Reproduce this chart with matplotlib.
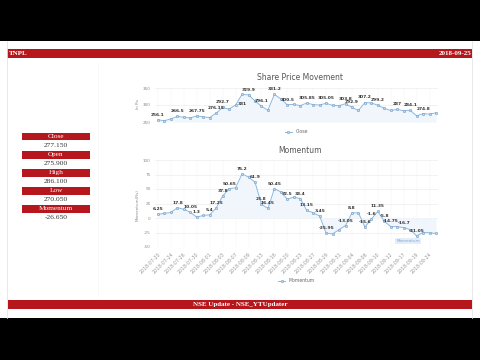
import matplotlib
matplotlib.use('Agg')
import matplotlib.pyplot as plt
from matplotlib.patches import Rectangle
from matplotlib.lines import Line2D

plt.rcParams['axes.unicode_minus'] = False

# ---------------- data ----------------
dates = ["2018-07-20", "2018-07-23", "2018-07-24", "2018-07-25", "2018-07-26", "2018-07-27",
         "2018-07-30", "2018-07-31", "2018-08-01", "2018-08-02", "2018-08-03", "2018-08-06",
         "2018-08-07", "2018-08-08", "2018-08-09", "2018-08-10", "2018-08-13", "2018-08-14",
         "2018-08-16", "2018-08-17", "2018-08-20", "2018-08-21", "2018-08-23", "2018-08-24",
         "2018-08-27", "2018-08-28", "2018-08-29", "2018-08-30", "2018-08-31", "2018-09-03",
         "2018-09-04", "2018-09-05", "2018-09-06", "2018-09-07", "2018-09-10", "2018-09-11",
         "2018-09-12", "2018-09-14", "2018-09-17", "2018-09-18", "2018-09-19", "2018-09-21",
         "2018-09-24", "2018-09-25"]

close = [256.1, 254.0, 259.0, 266.5, 264.0, 262.0, 267.75, 265.0, 263.0, 276.15,
         292.7, 288.0, 300.0, 331.0, 329.9, 312.0, 296.1, 285.0, 331.2, 318.0,
         300.5, 302.0, 298.0, 305.85, 301.0, 300.0, 305.05, 299.0, 298.0, 303.8,
         292.9, 284.0, 307.2, 306.0, 299.2, 290.0, 284.0, 287.0, 283.0, 284.1,
         268.0, 274.8, 273.0, 277.15]
close_labeled = [0, 3, 6, 9, 10, 13, 14, 16, 18, 20, 23, 26, 29, 30, 32, 34, 37, 39, 41]

momentum = [6.25, 8.0, 9.5, 17.8, 15.0, 10.05, 1.3, 4.5, 5.4, 17.25,
            37.8, 50.65, 52.0, 76.2, 70.5, 61.9, 23.8, 16.45, 50.45, 45.0,
            32.5, 36.0, 33.4, 13.15, 9.0, 3.45, -25.95, -27.5, -20.0, -13.05,
            8.8, 9.0, -15.6, -1.6, 11.35, -5.8, -14.75, -15.0, -16.7, -20.0,
            -31.05, -25.0, -25.5, -26.65]
mom_labeled = [0, 3, 5, 6, 8, 9, 10, 11, 13, 15, 16, 17, 18, 20, 22, 23, 25, 26,
               29, 30, 32, 33, 34, 35, 36, 38, 40]

symbol = "TNPL"
date_str = "2018-09-25"
stats_names = ["Close", "Open", "High", "Low", "Momentum"]
stats_values = ["277.150", "275.900", "286.100", "270.050", "-26.650"]
footer = "NSE Update - NSE_YTUpdater"

# ---------------- figure ----------------
W, H = 480, 360
fig = plt.figure(figsize=(4.8, 3.6), dpi=100)
fig.patch.set_facecolor('white')
RED = '#b5171c'
SERIF = ['Liberation Serif', 'DejaVu Serif']


def fx(x):
    return x / W


def fy(y):
    return 1 - y / H


def rect(x0, y0, x1, y1, color):
    fig.patches.append(Rectangle((fx(x0), fy(y1)), (x1 - x0) / W, (y1 - y0) / H,
                                 transform=fig.transFigure, facecolor=color,
                                 edgecolor='none', zorder=0))


# letterbox
rect(0, 0, 480, 41, 'black')
rect(0, 318, 480, 360, 'black')
# faint frame edges
for xx in (7, 472):
    fig.add_artist(Line2D([fx(xx), fx(xx)], [fy(41), fy(318)], color='#e4e4e4', lw=0.6,
                          transform=fig.transFigure))
fig.add_artist(Line2D([fx(98), fx(98)], [fy(62), fy(296)], color='#f5f5f5', lw=0.5,
                      transform=fig.transFigure))

# header / footer
rect(7, 49, 472, 57.5, RED)
fig.text(fx(9), fy(53.3), symbol, color='white', fontsize=5, fontweight='bold',
         family=SERIF, ha='left', va='center')
fig.text(fx(471), fy(53.3), date_str, color='white', fontsize=5, fontweight='bold',
         family=SERIF, ha='right', va='center')
rect(8, 300, 472, 309, RED)
fig.text(fx(240), fy(304.5), footer, color='white', fontsize=5, fontweight='bold',
         family=SERIF, ha='center', va='center')

# left stats panel
box_tops = [133, 151, 169, 187, 205]
for name, val, yt in zip(stats_names, stats_values, box_tops):
    rect(22, yt, 90, yt + 7.5, RED)
    fig.text(fx(56), fy(yt + 3.8), name, color='white', fontsize=5.2, family=SERIF,
             ha='center', va='center')
    fig.text(fx(56), fy(yt + 12.5), val, color='#333333', fontsize=5.4, family=SERIF,
             ha='center', va='center')

LINE = '#8db9df'
MFC = '#c9ddf0'
MEC = '#6a98c4'
FILL = '#f0f6fc'

x = list(range(len(close)))
xlim = (-0.46, len(close) - 1 + 0.3)


def style_axes(ax):
    for s in ax.spines.values():
        s.set_visible(False)
    ax.grid(axis='y', color='#e8e8e8', lw=0.4)
    ax.grid(axis='x', color='#f4f4f4', lw=0.3)
    ax.set_axisbelow(True)
    ax.tick_params(length=0, labelsize=3, labelcolor='#8a8a8a', pad=3)


# ---- top chart ----
ax1 = fig.add_axes([fx(155), fy(122), (438 - 155) / W, (122 - 88) / H])
style_axes(ax1)
ax1.fill_between(x, close, 250, color=FILL, lw=0, zorder=1)
ax1.plot(x, close, color=LINE, lw=0.7, marker='o', ms=1.7, mfc=MFC, mec=MEC, mew=0.4,
         label='Close', zorder=3)
ax1.set_ylim(250, 350)
ax1.set_yticks([250, 300, 350])
ax1.set_xlim(*xlim)
ax1.set_xticks(x[::2])
ax1.set_xticklabels([])
for i in close_labeled:
    dy = -8 if i == 13 else 2.2
    ax1.annotate(f"{close[i]:g}", (i, close[i]), xytext=(0, dy), textcoords='offset points',
                 ha='center', va='bottom', fontsize=3.2, fontweight='bold', color='#333333',
                 zorder=4)
ax1.legend(loc='center', bbox_to_anchor=(0.5, -0.29), frameon=False, fontsize=3.3,
           handlelength=1.6, labelcolor='#666666')
fig.text(fx(300), fy(77), "Share Price Movement", fontsize=5.5, color='#555555',
         ha='center', va='center')
fig.text(fx(138), fy(104), "In Rs", fontsize=3, color='#8a8a8a', rotation=90,
         ha='center', va='center')

# ---- momentum chart ----
ax2 = fig.add_axes([fx(155), fy(247), (438 - 155) / W, (247 - 160) / H])
style_axes(ax2)
ax2.fill_between(x, momentum, 0, color=FILL, lw=0, zorder=1)
ax2.plot(x, momentum, color=LINE, lw=0.7, marker='o', ms=1.7, mfc=MFC, mec=MEC, mew=0.4,
         label='Momentum', zorder=3)
ax2.set_ylim(-50, 100)
ax2.set_yticks([-50, -25, 0, 25, 50, 75, 100])
ax2.set_xlim(*xlim)
ax2.set_xticks(x[::2])
ax2.set_xticklabels(dates[::2], rotation=45, ha='right', rotation_mode='anchor',
                    fontsize=3.4, color='#999999')
for i in mom_labeled:
    ax2.annotate(f"{momentum[i]:g}", (i, momentum[i]), xytext=(0, 2.2),
                 textcoords='offset points', ha='center', va='bottom', fontsize=3.2,
                 fontweight='bold', color='#333333', zorder=4)
ax2.legend(loc='center', bbox_to_anchor=(0.5, -0.39), frameon=False, fontsize=3.3,
           handlelength=1.6, labelcolor='#666666')
fig.text(fx(300), fy(150), "Momentum", fontsize=5.5, color='#555555',
         ha='center', va='center')
fig.text(fx(138), fy(205), "Momentum(Rs)", fontsize=3, color='#8a8a8a', rotation=90,
         ha='center', va='center')
fig.text(fx(408), fy(241), "Momentum", fontsize=3, color='#7fa8d0', ha='center',
         va='center', bbox=dict(boxstyle='square,pad=0.3', facecolor='#e3eef8',
                                edgecolor='none'))

fig.savefig('out.png', dpi=100)
